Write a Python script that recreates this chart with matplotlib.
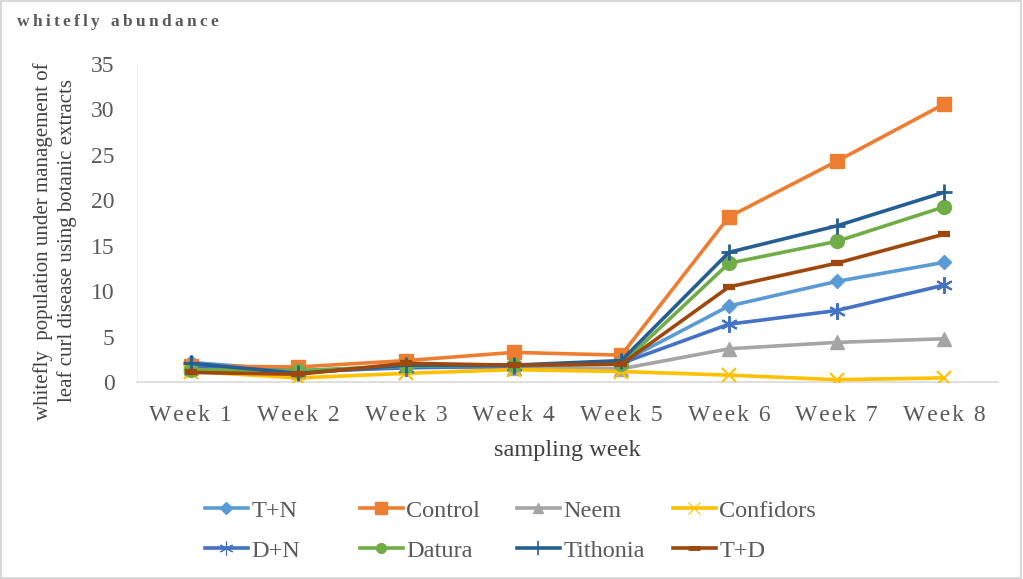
import matplotlib
matplotlib.use("Agg")
import matplotlib.pyplot as plt
from matplotlib.lines import Line2D
import numpy as np

weeks = ["Week 1", "Week 2", "Week 3", "Week 4", "Week 5", "Week 6", "Week 7", "Week 8"]
t_n = [2.2, 1.3, 1.7, 1.8, 2.2, 8.4, 11.1, 13.2]
control = [1.8, 1.7, 2.4, 3.3, 3.0, 18.2, 24.3, 30.6]
neem = [1.6, 1.1, 1.7, 1.6, 1.5, 3.7, 4.4, 4.8]
confidors = [1.2, 0.5, 1.0, 1.4, 1.2, 0.8, 0.3, 0.5]
d_n = [1.8, 1.2, 1.6, 1.8, 2.1, 6.4, 7.9, 10.7]
datura = [1.4, 1.3, 1.8, 1.9, 2.0, 13.1, 15.5, 19.3]
tithonia = [2.1, 1.0, 1.9, 1.9, 2.4, 14.3, 17.2, 20.9]
t_d = [1.1, 0.9, 2.1, 1.9, 2.0, 10.5, 13.1, 16.3]
series_names = ["T+N", "Control", "Neem", "Confidors", "D+N", "Datura", "Tithonia", "T+D"]
series_values = [t_n, control, neem, confidors, d_n, datura, tithonia, t_d]
title_text = "whitefly abundance"

colors = ["#5B9BD5", "#ED7D31", "#A5A5A5", "#FFC000", "#4472C4", "#70AD47", "#255E91", "#9E480E"]
markers = ["D", "s", "^", "x", (6, 2, 0), "o", "+", "_"]
msizes = [7, 9.5, 10, 10, 12, 10, 12, 9]
mews = [1, 1, 1, 1.5, 1.5, 1, 2, 4.5]
leg_msizes = [6, 8, 7, 9, 10, 7, 10, 8]
leg_mews = [1, 1, 1, 0.8, 0.8, 1, 1.2, 3.5]

serif = ["Liberation Serif", "DejaVu Serif"]
plt.rcParams["font.family"] = serif
txtc = "#595959"

fig = plt.figure(figsize=(10.23, 5.79), dpi=100)
ax = fig.add_axes([0.1339, 0.3395, 0.8417, 0.55])

x = np.arange(len(weeks))
leg_handles = []
for name, vals, c, m, ms, mew, lms, lmew in zip(series_names, series_values, colors, markers,
                                                msizes, mews, leg_msizes, leg_mews):
    ax.plot(x, vals, color=c, lw=2.6, marker=m, markersize=ms,
            markerfacecolor=c, markeredgecolor=c, markeredgewidth=mew,
            solid_joinstyle="round", zorder=3)
    leg_handles.append(Line2D([], [], color=c, lw=2.6, marker=m, markersize=lms,
                              markerfacecolor=c, markeredgecolor=c, markeredgewidth=lmew))

ax.set_xlim(-0.5, len(weeks) - 0.5)
ax.set_ylim(0, 35)
ax.set_yticks(np.arange(0, 36, 5))
ax.set_xticks(x)
hs = "\u200a"
ax.set_xticklabels([hs.join(list(w)) for w in weeks])
ax.tick_params(axis="both", length=0, labelsize=17, colors=txtc)
ax.tick_params(axis="x", pad=16.5)
ax.tick_params(axis="y", pad=16)
for s in ["top", "right"]:
    ax.spines[s].set_visible(False)
ax.spines["bottom"].set_color("#D9D9D9")
ax.spines["left"].set_color("#F0F0F0")
ax.spines["bottom"].set_linewidth(1.2)

ax.set_xlabel("sampling week", fontsize=17.5, color="#404040", labelpad=10)
fig.text(55 / 1023, 1 - 241 / 579,
         "whitefly  population under management of\nleaf curl disease using botanic extracts",
         fontsize=15, color="#404040", rotation=90, ha="center", va="center",
         multialignment="center", linespacing=1.25)

# title with uniform letter spacing
fig.canvas.draw()
renderer = fig.canvas.get_renderer()
H = 579
tfs = 12.5
chars = list(title_text)
objs = [fig.text(0, H - 22, ch if ch != " " else "", fontsize=tfs, fontweight="bold",
                 color=txtc, va="center", transform=None) for ch in chars]
ws = []
for ch, o in zip(chars, objs):
    if ch == " ":
        ws.append(tfs * 100 / 72 * 0.25)
    else:
        ws.append(o.get_window_extent(renderer).width)
x0, x1 = 17, 218
gap = ((x1 - x0) - sum(ws)) / (len(chars) - 1)
cx = x0
for o, w in zip(objs, ws):
    o.set_x(cx)
    cx += w + gap

# legend: 4 columns of 2 rows
col_x = [0.2004, 0.352, 0.5054, 0.6579]
for ci in range(4):
    hh = [leg_handles[ci], leg_handles[ci + 4]]
    lg = fig.legend(hh, [series_names[ci], series_names[ci + 4]], loc="upper left",
                    bbox_to_anchor=(col_x[ci], 0.137), frameon=False, fontsize=17.5,
                    handlelength=1.75, handletextpad=0.15, labelspacing=0.75,
                    borderaxespad=0, borderpad=0)
    for t in lg.get_texts():
        t.set_color(txtc)

# figure border
fig.patches.append(plt.Rectangle((0.001, 0.002), 0.997, 0.996, transform=fig.transFigure,
                                 fill=False, edgecolor="#D9D9D9", lw=1.5))

fig.savefig("out.png", dpi=100)
